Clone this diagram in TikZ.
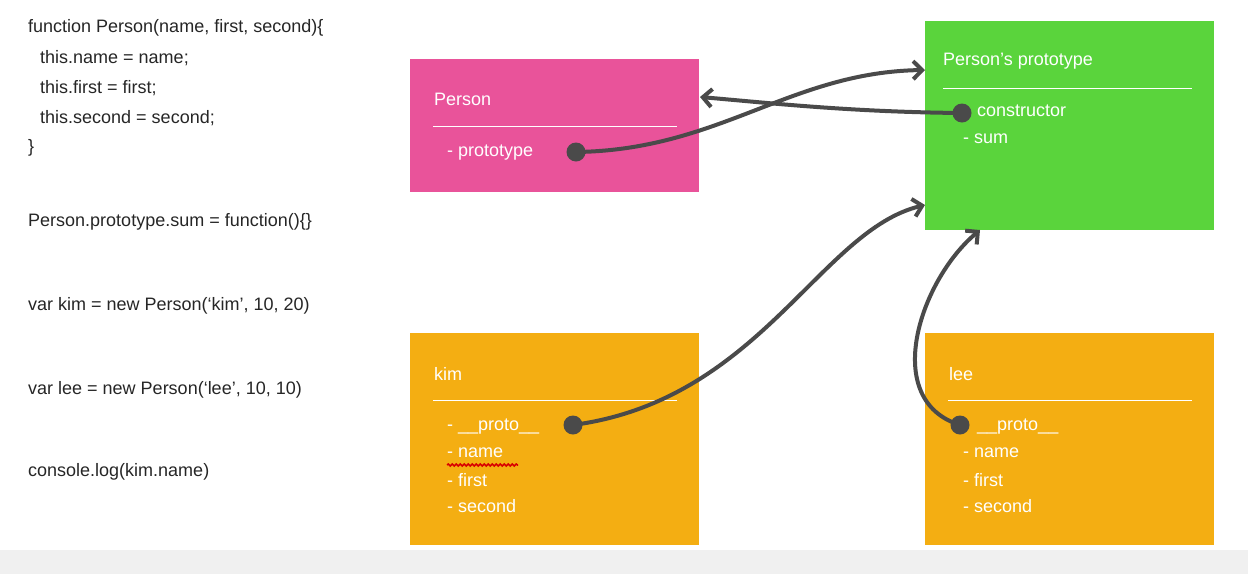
\documentclass[tikz,border=0pt]{standalone}
\usepackage{fontspec}
\setmainfont{Liberation Sans}
\usetikzlibrary{arrows.meta,decorations.pathmorphing}
\definecolor{pinkbox}{HTML}{E9539A}
\definecolor{greenbox}{HTML}{5AD43C}
\definecolor{orangebox}{HTML}{F4AE12}
\definecolor{linkgray}{HTML}{4A4A4A}
\tikzset{
  box/.style={draw=none,minimum width=289pt,minimum height=#1,anchor=north west,inner sep=0pt},
  code/.style={anchor=west,inner sep=0pt,font=\fontsize{18}{22}\selectfont,text=black!85},
  title/.style={anchor=west,inner sep=0pt,font=\fontsize{18}{22}\selectfont,text=white},
  item/.style={anchor=west,inner sep=0pt,font=\fontsize{18}{22}\selectfont,text=white},
  dot/.style={circle,fill=linkgray,minimum size=19pt,inner sep=0pt},
  link/.style={draw=linkgray,line width=4pt,-{Straight Barb[length=9pt,width=18pt,line width=4pt]}}
}
\begin{document}
\begin{tikzpicture}[x=1pt,y=-1pt]
\useasboundingbox (0,0) rectangle (1248,574);
\fill[black!6] (0,550) rectangle (1248,574);
%% code
\node[code] (c1) at (28,28) {function Person(name, first, second)\{};
\node[code] (c2) at (40,58) {this.name = name;};
\node[code] (c3) at (40,88) {this.first = first;};
\node[code] (c4) at (40,118) {this.second = second;};
\node[code] (c5) at (28,148) {\}};
\node[code] (c6) at (28,222) {Person.prototype.sum = function()\{\}};
\node[code] (c7) at (28,306) {var kim = new Person(‘kim’, 10, 20)};
\node[code] (c8) at (28,390) {var lee = new Person(‘lee’, 10, 10)};
\node[code] (c9) at (28,472) {console.log(kim.name)};
%% boxes
\node[box=133pt,fill=pinkbox] (person) at (410,59) {};
\node[box=209pt,fill=greenbox] (proto) at (925,21) {};
\node[box=212pt,fill=orangebox] (kim) at (410,333) {};
\node[box=212pt,fill=orangebox] (lee) at (925,333) {};
%% person
\node[title] (personT) at (434,99) {Person};
\draw[white,line width=1pt] (433,126) -- (677,126);
\node[item] (personP) at (447,153) {- prototype};
\node[dot] (dotP) at (576,152) {};
%% prototype
\node[title] (protoT) at (943,61) {Person’s prototype};
\draw[white,line width=1pt] (943,88) -- (1192,88);
\node[item] (protoC) at (977,111) {constructor};
\node[item] (protoS) at (963,139) {- sum};
\node[dot] (dotC) at (962,113) {};
%% kim
\node[title] (kimT) at (434,374) {kim};
\draw[white,line width=1pt] (433,400) -- (677,400);
\node[item] (kimA) at (447,427) {- \_\_proto\_\_};
\node[item] (kimB) at (447,453) {- name};
\node[item] (kimC) at (447,480) {- first};
\node[item] (kimD) at (447,506) {- second};
\node[dot] (dotK) at (573,425) {};
\draw[red!85!black,line width=1.5pt,decorate,decoration={snake,amplitude=1pt,segment length=4pt}] (447,465) -- (518,465);
%% lee
\node[title] (leeT) at (949,374) {lee};
\draw[white,line width=1pt] (948,400) -- (1192,400);
\node[item] (leeA) at (977,427) {\_\_proto\_\_};
\node[item] (leeB) at (963,453) {- name};
\node[item] (leeC) at (963,480) {- first};
\node[item] (leeD) at (963,506) {- second};
\node[dot] (dotL) at (960,425) {};
%% links
\coordinate (tipP) at (925,70);
\coordinate (tipC) at (700,97);
\coordinate (tipK) at (925,205);
\coordinate (tipL) at (980,230);
\draw[link] (dotP.center) .. controls (720,150) and (790,72) .. (tipP);
\draw[link] (dotC.center) .. controls (850,112) and (770,103) .. (tipC);
\draw[link] (dotK.center) .. controls (760,400) and (820,230) .. (tipK);
\draw[link] (dotL.center) .. controls (880,400) and (920,280) .. (tipL);
\end{tikzpicture}
\end{document}
